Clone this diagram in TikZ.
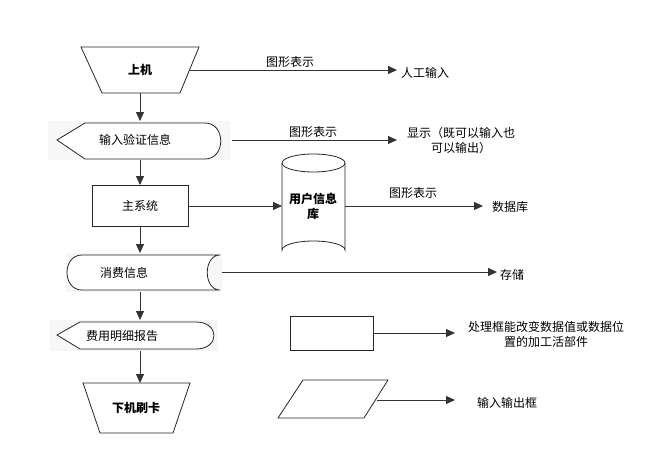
\documentclass[tikz,border=0pt]{standalone}
\usepackage{fontspec}
\setmainfont{Noto Sans CJK SC}
\usetikzlibrary{arrows.meta}
\begin{document}
\begin{tikzpicture}[x=1pt,y=-1pt,
    box/.style={draw=black!85,thick,fill=white},
    txt/.style={font=\fontsize{12}{15}\selectfont,align=center,inner sep=0pt},
    bold/.style={txt,font=\fontsize{12}{15}\selectfont\bfseries},
    arr/.style={draw=black!80,thick,-{Triangle[length=9pt,width=8pt]}},
    ln/.style={draw=black!80,thick}]
    \useasboundingbox (0,0) rectangle (662,466);

    % Forme del diagramma
    \draw[box] (81,47) -- (199,47) -- (180,93) -- (102,93) -- cycle;
    \fill[black!3] (48,121) rectangle (230,160);
    \draw[box] (57,140) -- (85,123) -- (205,123) .. controls (226,123) and (226,159) .. (205,159) -- (85,159) -- cycle;
    \draw[box] (92,185) rectangle (188,226);
    \draw[box] (282,163) -- (282,250) arc[start angle=180,end angle=360,x radius=31.5,y radius=9] -- (345,163);
    \draw[box] (313.5,163) ellipse[x radius=31.5,y radius=9];
    \fill[black!3] (66,253) rectangle (222,292);
    \draw[box] (82,255) .. controls (62,255) and (62,290) .. (82,290) -- (220,290) .. controls (203,290) and (203,255) .. (220,255) -- cycle;
    \fill[black!3] (50,320) rectangle (218,351);
    \draw[box] (57,335) -- (80,322) -- (196,322) .. controls (220,322) and (220,349) .. (196,349) -- (80,349) -- cycle;
    \draw[box] (83,383) -- (190,383) -- (173,433) -- (100,433) -- cycle;
    \draw[box] (290,316) rectangle (373,350);
    \draw[box] (303,380) -- (388,380) -- (364,418) -- (278,418) -- cycle;

    % Testi
    \node[bold] (up) at (140,70) {上机};
    \node[txt] (verify) at (135,140) {输入验证信息};
    \node[txt] (main) at (140,206) {主系统};
    \node[bold] (db) at (313,206) {用户信息\\库};
    \node[txt] (cost) at (124,273) {消费信息};
    \node[txt] (report) at (122,336) {费用明细报告};
    \node[bold] (down) at (136,408) {下机刷卡};
    \node[txt] (manual) at (425,73) {人工输入};
    \node[txt] (show) at (461,140) {显示（既可以输入也\\可以输出）};
    \node[txt] (dbtxt) at (510,207) {数据库};
    \node[txt] (store) at (512,275) {存储};
    \node[txt] (proc) at (546,334) {处理框能改变数据值或数据位\\置的加工活部件};
    \node[txt] (io) at (507,403) {输入输出框};

    % Coordinate delle frecce
    \coordinate (a1) at (140,93);  \coordinate (a2) at (140,121);
    \coordinate (b1) at (140,160); \coordinate (b2) at (140,185);
    \coordinate (c1) at (140,226); \coordinate (c2) at (140,253);
    \coordinate (d1) at (140,292); \coordinate (d2) at (140,320);
    \coordinate (e1) at (140,351); \coordinate (e2) at (140,383);
    \coordinate (m1) at (190,70);  \coordinate (m2) at (397,70);
    \coordinate (v1) at (232,140); \coordinate (v2) at (397,140);
    \coordinate (s1) at (188,206); \coordinate (s2) at (282,206);
    \coordinate (k1) at (345,206); \coordinate (k2) at (483,206);
    \coordinate (x1) at (222,272); \coordinate (x2) at (497,272);
    \coordinate (p1) at (373,333); \coordinate (p2) at (455,333);
    \coordinate (q1) at (377,400); \coordinate (q2) at (455,400);

    % Frecce
    \foreach \s/\t in {a1/a2,b1/b2,c1/c2,d1/d2,e1/e2,m1/m2,v1/v2,s1/s2,k1/k2,x1/x2,p1/p2,q1/q2}
        \draw[arr] (\s) -- (\t);
    \node[txt] at (290,62) {图形表示};
    \node[txt] at (313,132) {图形表示};
    \node[txt] at (413,193) {图形表示};
\end{tikzpicture}
\end{document}
